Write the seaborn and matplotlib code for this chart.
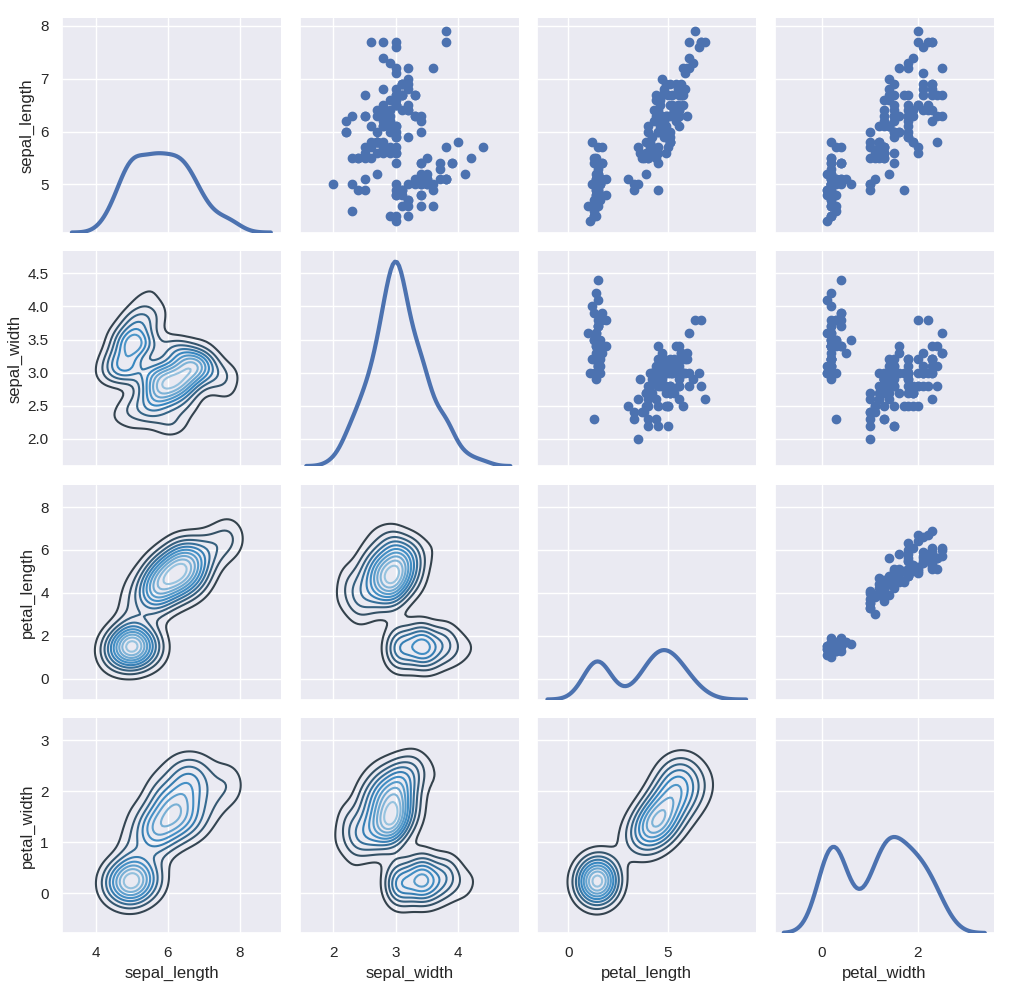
import matplotlib
matplotlib.use('Agg')
import numpy as np
import pandas as pd
import matplotlib.pyplot as plt
import seaborn as sns

sepal_length = [5.1, 4.9, 4.7, 4.6, 5.0, 5.4, 4.6, 5.0, 4.4, 4.9, 5.4, 4.8, 4.8, 4.3, 5.8, 5.7, 5.4, 5.1, 5.7, 5.1, 5.4, 5.1, 4.6, 5.1, 4.8,
                5.0, 5.0, 5.2, 5.2, 4.7, 4.8, 5.4, 5.2, 5.5, 4.9, 5.0, 5.5, 4.9, 4.4, 5.1, 5.0, 4.5, 4.4, 5.0, 5.1, 4.8, 5.1, 4.6, 5.3, 5.0,
                7.0, 6.4, 6.9, 5.5, 6.5, 5.7, 6.3, 4.9, 6.6, 5.2, 5.0, 5.9, 6.0, 6.1, 5.6, 6.7, 5.6, 5.8, 6.2, 5.6, 5.9, 6.1, 6.3, 6.1, 6.4,
                6.6, 6.8, 6.7, 6.0, 5.7, 5.5, 5.5, 5.8, 6.0, 5.4, 6.0, 6.7, 6.3, 5.6, 5.5, 5.5, 6.1, 5.8, 5.0, 5.6, 5.7, 5.7, 6.2, 5.1, 5.7,
                6.3, 5.8, 7.1, 6.3, 6.5, 7.6, 4.9, 7.3, 6.7, 7.2, 6.5, 6.4, 6.8, 5.7, 5.8, 6.4, 6.5, 7.7, 7.7, 6.0, 6.9, 5.6, 7.7, 6.3, 6.7,
                7.2, 6.2, 6.1, 6.4, 7.2, 7.4, 7.9, 6.4, 6.3, 6.1, 7.7, 6.3, 6.4, 6.0, 6.9, 6.7, 6.9, 5.8, 6.8, 6.7, 6.7, 6.3, 6.5, 6.2, 5.9]
sepal_width = [3.5, 3.0, 3.2, 3.1, 3.6, 3.9, 3.4, 3.4, 2.9, 3.1, 3.7, 3.4, 3.0, 3.0, 4.0, 4.4, 3.9, 3.5, 3.8, 3.8, 3.4, 3.7, 3.6, 3.3, 3.4,
               3.0, 3.4, 3.5, 3.4, 3.2, 3.1, 3.4, 4.1, 4.2, 3.1, 3.2, 3.5, 3.6, 3.0, 3.4, 3.5, 2.3, 3.2, 3.5, 3.8, 3.0, 3.8, 3.2, 3.7, 3.3,
               3.2, 3.2, 3.1, 2.3, 2.8, 2.8, 3.3, 2.4, 2.9, 2.7, 2.0, 3.0, 2.2, 2.9, 2.9, 3.1, 3.0, 2.7, 2.2, 2.5, 3.2, 2.8, 2.5, 2.8, 2.9,
               3.0, 2.8, 3.0, 2.9, 2.6, 2.4, 2.4, 2.7, 2.7, 3.0, 3.4, 3.1, 2.3, 3.0, 2.5, 2.6, 3.0, 2.6, 2.3, 2.7, 3.0, 2.9, 2.9, 2.5, 2.8,
               3.3, 2.7, 3.0, 2.9, 3.0, 3.0, 2.5, 2.9, 2.5, 3.6, 3.2, 2.7, 3.0, 2.5, 2.8, 3.2, 3.0, 3.8, 2.6, 2.2, 3.2, 2.8, 2.8, 2.7, 3.3,
               3.2, 2.8, 3.0, 2.8, 3.0, 2.8, 3.8, 2.8, 2.8, 2.6, 3.0, 3.4, 3.1, 3.0, 3.1, 3.1, 3.1, 2.7, 3.2, 3.3, 3.0, 2.5, 3.0, 3.4, 3.0]
petal_length = [1.4, 1.4, 1.3, 1.5, 1.4, 1.7, 1.4, 1.5, 1.4, 1.5, 1.5, 1.6, 1.4, 1.1, 1.2, 1.5, 1.3, 1.4, 1.7, 1.5, 1.7, 1.5, 1.0, 1.7, 1.9,
                1.6, 1.6, 1.5, 1.4, 1.6, 1.6, 1.5, 1.5, 1.4, 1.5, 1.2, 1.3, 1.4, 1.3, 1.5, 1.3, 1.3, 1.3, 1.6, 1.9, 1.4, 1.6, 1.4, 1.5, 1.4,
                4.7, 4.5, 4.9, 4.0, 4.6, 4.5, 4.7, 3.3, 4.6, 3.9, 3.5, 4.2, 4.0, 4.7, 3.6, 4.4, 4.5, 4.1, 4.5, 3.9, 4.8, 4.0, 4.9, 4.7, 4.3,
                4.4, 4.8, 5.0, 4.5, 3.5, 3.8, 3.7, 3.9, 5.1, 4.5, 4.5, 4.7, 4.4, 4.1, 4.0, 4.4, 4.6, 4.0, 3.3, 4.2, 4.2, 4.2, 4.3, 3.0, 4.1,
                6.0, 5.1, 5.9, 5.6, 5.8, 6.6, 4.5, 6.3, 5.8, 6.1, 5.1, 5.3, 5.5, 5.0, 5.1, 5.3, 5.5, 6.7, 6.9, 5.0, 5.7, 4.9, 6.7, 4.9, 5.7,
                6.0, 4.8, 4.9, 5.6, 5.8, 6.1, 6.4, 5.6, 5.1, 5.6, 6.1, 5.6, 5.5, 4.8, 5.4, 5.6, 5.1, 5.1, 5.9, 5.7, 5.2, 5.0, 5.2, 5.4, 5.1]
petal_width = [0.2, 0.2, 0.2, 0.2, 0.2, 0.4, 0.3, 0.2, 0.2, 0.1, 0.2, 0.2, 0.1, 0.1, 0.2, 0.4, 0.4, 0.3, 0.3, 0.3, 0.2, 0.4, 0.2, 0.5, 0.2,
               0.2, 0.4, 0.2, 0.2, 0.2, 0.2, 0.4, 0.1, 0.2, 0.2, 0.2, 0.2, 0.1, 0.2, 0.2, 0.3, 0.3, 0.2, 0.6, 0.4, 0.3, 0.2, 0.2, 0.2, 0.2,
               1.4, 1.5, 1.5, 1.3, 1.5, 1.3, 1.6, 1.0, 1.3, 1.4, 1.0, 1.5, 1.0, 1.4, 1.3, 1.4, 1.5, 1.0, 1.5, 1.1, 1.8, 1.3, 1.5, 1.2, 1.3,
               1.4, 1.4, 1.7, 1.5, 1.0, 1.1, 1.0, 1.2, 1.6, 1.5, 1.6, 1.5, 1.3, 1.3, 1.3, 1.2, 1.4, 1.2, 1.0, 1.3, 1.2, 1.3, 1.3, 1.1, 1.3,
               2.5, 1.9, 2.1, 1.8, 2.2, 2.1, 1.7, 1.8, 1.8, 2.5, 2.0, 1.9, 2.1, 2.0, 2.4, 2.3, 1.8, 2.2, 2.3, 1.5, 2.3, 2.0, 2.0, 1.8, 2.1,
               1.8, 1.8, 1.8, 2.1, 1.6, 1.9, 2.0, 2.2, 1.5, 1.4, 2.3, 2.4, 1.8, 1.8, 2.1, 2.4, 2.3, 1.9, 2.3, 2.5, 2.3, 1.9, 2.0, 2.3, 1.8]

x_limits = [(3.06, 9.16), (1.46, 4.97), (-1.58, 9.48), (-0.98, 3.58)]
y_limits = [(4.09, 8.15), (1.59, 4.83), (-0.98, 9.03), (-0.78, 3.43)]


def scott_bw(x):
    # same rule statsmodels uses
    x = np.asarray(x)
    q75, q25 = np.percentile(x, [75, 25])
    spread = min(np.std(x, ddof=1), (q75 - q25) / 1.349)
    return 1.059 * spread * len(x) ** (-1 / 5)


def kde_lines(x, y, **kwargs):
    # product kernel, contour levels linear in density
    x, y = np.asarray(x), np.asarray(y)
    bw_x, bw_y = scott_bw(x), scott_bw(y)
    xx = np.linspace(x.min() - 3 * bw_x, x.max() + 3 * bw_x, 100)
    yy = np.linspace(y.min() - 3 * bw_y, y.max() + 3 * bw_y, 100)
    kx = np.exp(-0.5 * ((xx[None, :] - x[:, None]) / bw_x) ** 2)
    ky = np.exp(-0.5 * ((yy[None, :] - y[:, None]) / bw_y) ** 2)
    z = ky.T @ kx / (len(x) * 2 * np.pi * bw_x * bw_y)
    cmap = sns.blend_palette(['#333333'] + sns.color_palette('Blues_r', 2), as_cmap=True)
    plt.gca().contour(xx, yy, z, 10, cmap=cmap)


def kde_diag(x, **kwargs):
    x = np.asarray(x)
    factor = scott_bw(x) / np.std(x, ddof=1)
    sns.kdeplot(x=x, bw_method=factor, cut=3, gridsize=100, linewidth=3, color='#4c72b0')


if __name__ == "__main__":
    sns.set_theme()
    plt.rcParams['font.family'] = ['Liberation Sans', 'DejaVu Sans']
    df = pd.DataFrame({'sepal_length': sepal_length, 'sepal_width': sepal_width,
                       'petal_length': petal_length, 'petal_width': petal_width})

    g = sns.PairGrid(df, height=2.5)
    g.map_lower(kde_lines)
    g.map_upper(plt.scatter)
    g.map_diag(kde_diag)

    for i in range(4):
        g.axes[3, i].set_xlim(x_limits[i])
        g.axes[i, 0].set_ylim(y_limits[i])

    g.figure.set_size_inches(10.12, 10)
    g.figure.subplots_adjust(left=62 / 1012, right=994 / 1012, top=1 - 18 / 1000, bottom=1 - 933 / 1000,
                             wspace=0.0825, hspace=0.0885)
    g.figure.savefig("out.png", dpi=100)
